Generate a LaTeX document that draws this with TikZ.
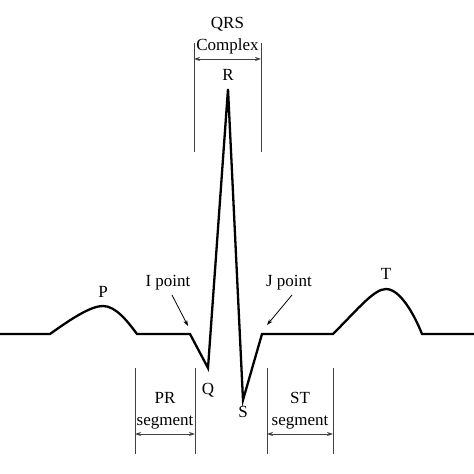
\documentclass[tikz,border=0pt]{standalone}
\usepackage{fontspec}
\setmainfont{Liberation Serif}
\usetikzlibrary{arrows.meta}

\begin{document}
\begin{tikzpicture}[x=1pt,y=1pt,
  wave/.style={black,line width=2.3pt,line join=miter},
  guide/.style={black!75,line width=0.8pt},
  span/.style={black!75,line width=0.8pt,{Stealth[length=6pt,width=4pt]}-{Stealth[length=6pt,width=4pt]}},
  pointer/.style={black,line width=0.8pt,-{Stealth[length=6pt,width=4pt]}},
  lbl/.style={font=\fontsize{17}{22}\selectfont,inner sep=0pt,align=center}]
\useasboundingbox (0,0) rectangle (474,474);
% points on the trace
\coordinate (start) at (0,140);
\coordinate (pon) at (50,140);
\coordinate (ppeak) at (103,168);
\coordinate (poff) at (137,140);
\coordinate (ipt) at (190,140);
\coordinate (q) at (208,106);
\coordinate (r) at (228,385);
\coordinate (s) at (243,74);
\coordinate (jpt) at (262,140);
\coordinate (ton) at (333,140);
\coordinate (tpeak) at (386,185);
\coordinate (toff) at (422,140);
\coordinate (finish) at (474,140);
% the trace
\draw[wave] (start) -- (pon)
  .. controls (75,158) and (92,168) .. (ppeak)
  .. controls (116,168) and (128,152) .. (poff)
  -- (ipt) -- (q) -- (r) -- (s) -- (jpt) -- (ton)
  .. controls (358,165) and (374,185) .. (tpeak)
  .. controls (400,185) and (414,160) .. (toff)
  -- (finish);
% wave labels
\node[lbl] (plbl) at (103,182) {P};
\node[lbl] (qlbl) at (208,84) {Q};
\node[lbl] (rlbl) at (228,399) {R};
\node[lbl] (slbl) at (243,62) {S};
\node[lbl] (tlbl) at (386,200) {T};
% I and J points
\node[lbl] (ilbl) at (168,191) {I point};
\node[lbl] (jlbl) at (289,191) {J point};
\coordinate (itip) at (188,148);
\coordinate (jtip) at (267,149);
\draw[pointer] (172,179) -- (itip);
\draw[pointer] (292,179) -- (jtip);
% QRS complex
\coordinate (qrsA) at (194,431);
\coordinate (qrsB) at (261,431);
\draw[guide] (qrsA) -- (194,322);
\draw[guide] (qrsB) -- (261,322);
\draw[span] (194,415) -- (261,415);
\node[lbl] (qrslbl) at (227.5,438) {QRS\\Complex};
% PR segment
\draw[guide] (135,106) -- (135,20);
\draw[guide] (195,106) -- (195,20);
\draw[span] (135,40) -- (195,40);
\node[lbl] (prlbl) at (165,63) {PR\\segment};
% ST segment
\draw[guide] (267,106) -- (267,20);
\draw[guide] (333,106) -- (333,20);
\draw[span] (267,40) -- (333,40);
\node[lbl] (stlbl) at (300,63) {ST\\segment};
\end{tikzpicture}
\end{document}
